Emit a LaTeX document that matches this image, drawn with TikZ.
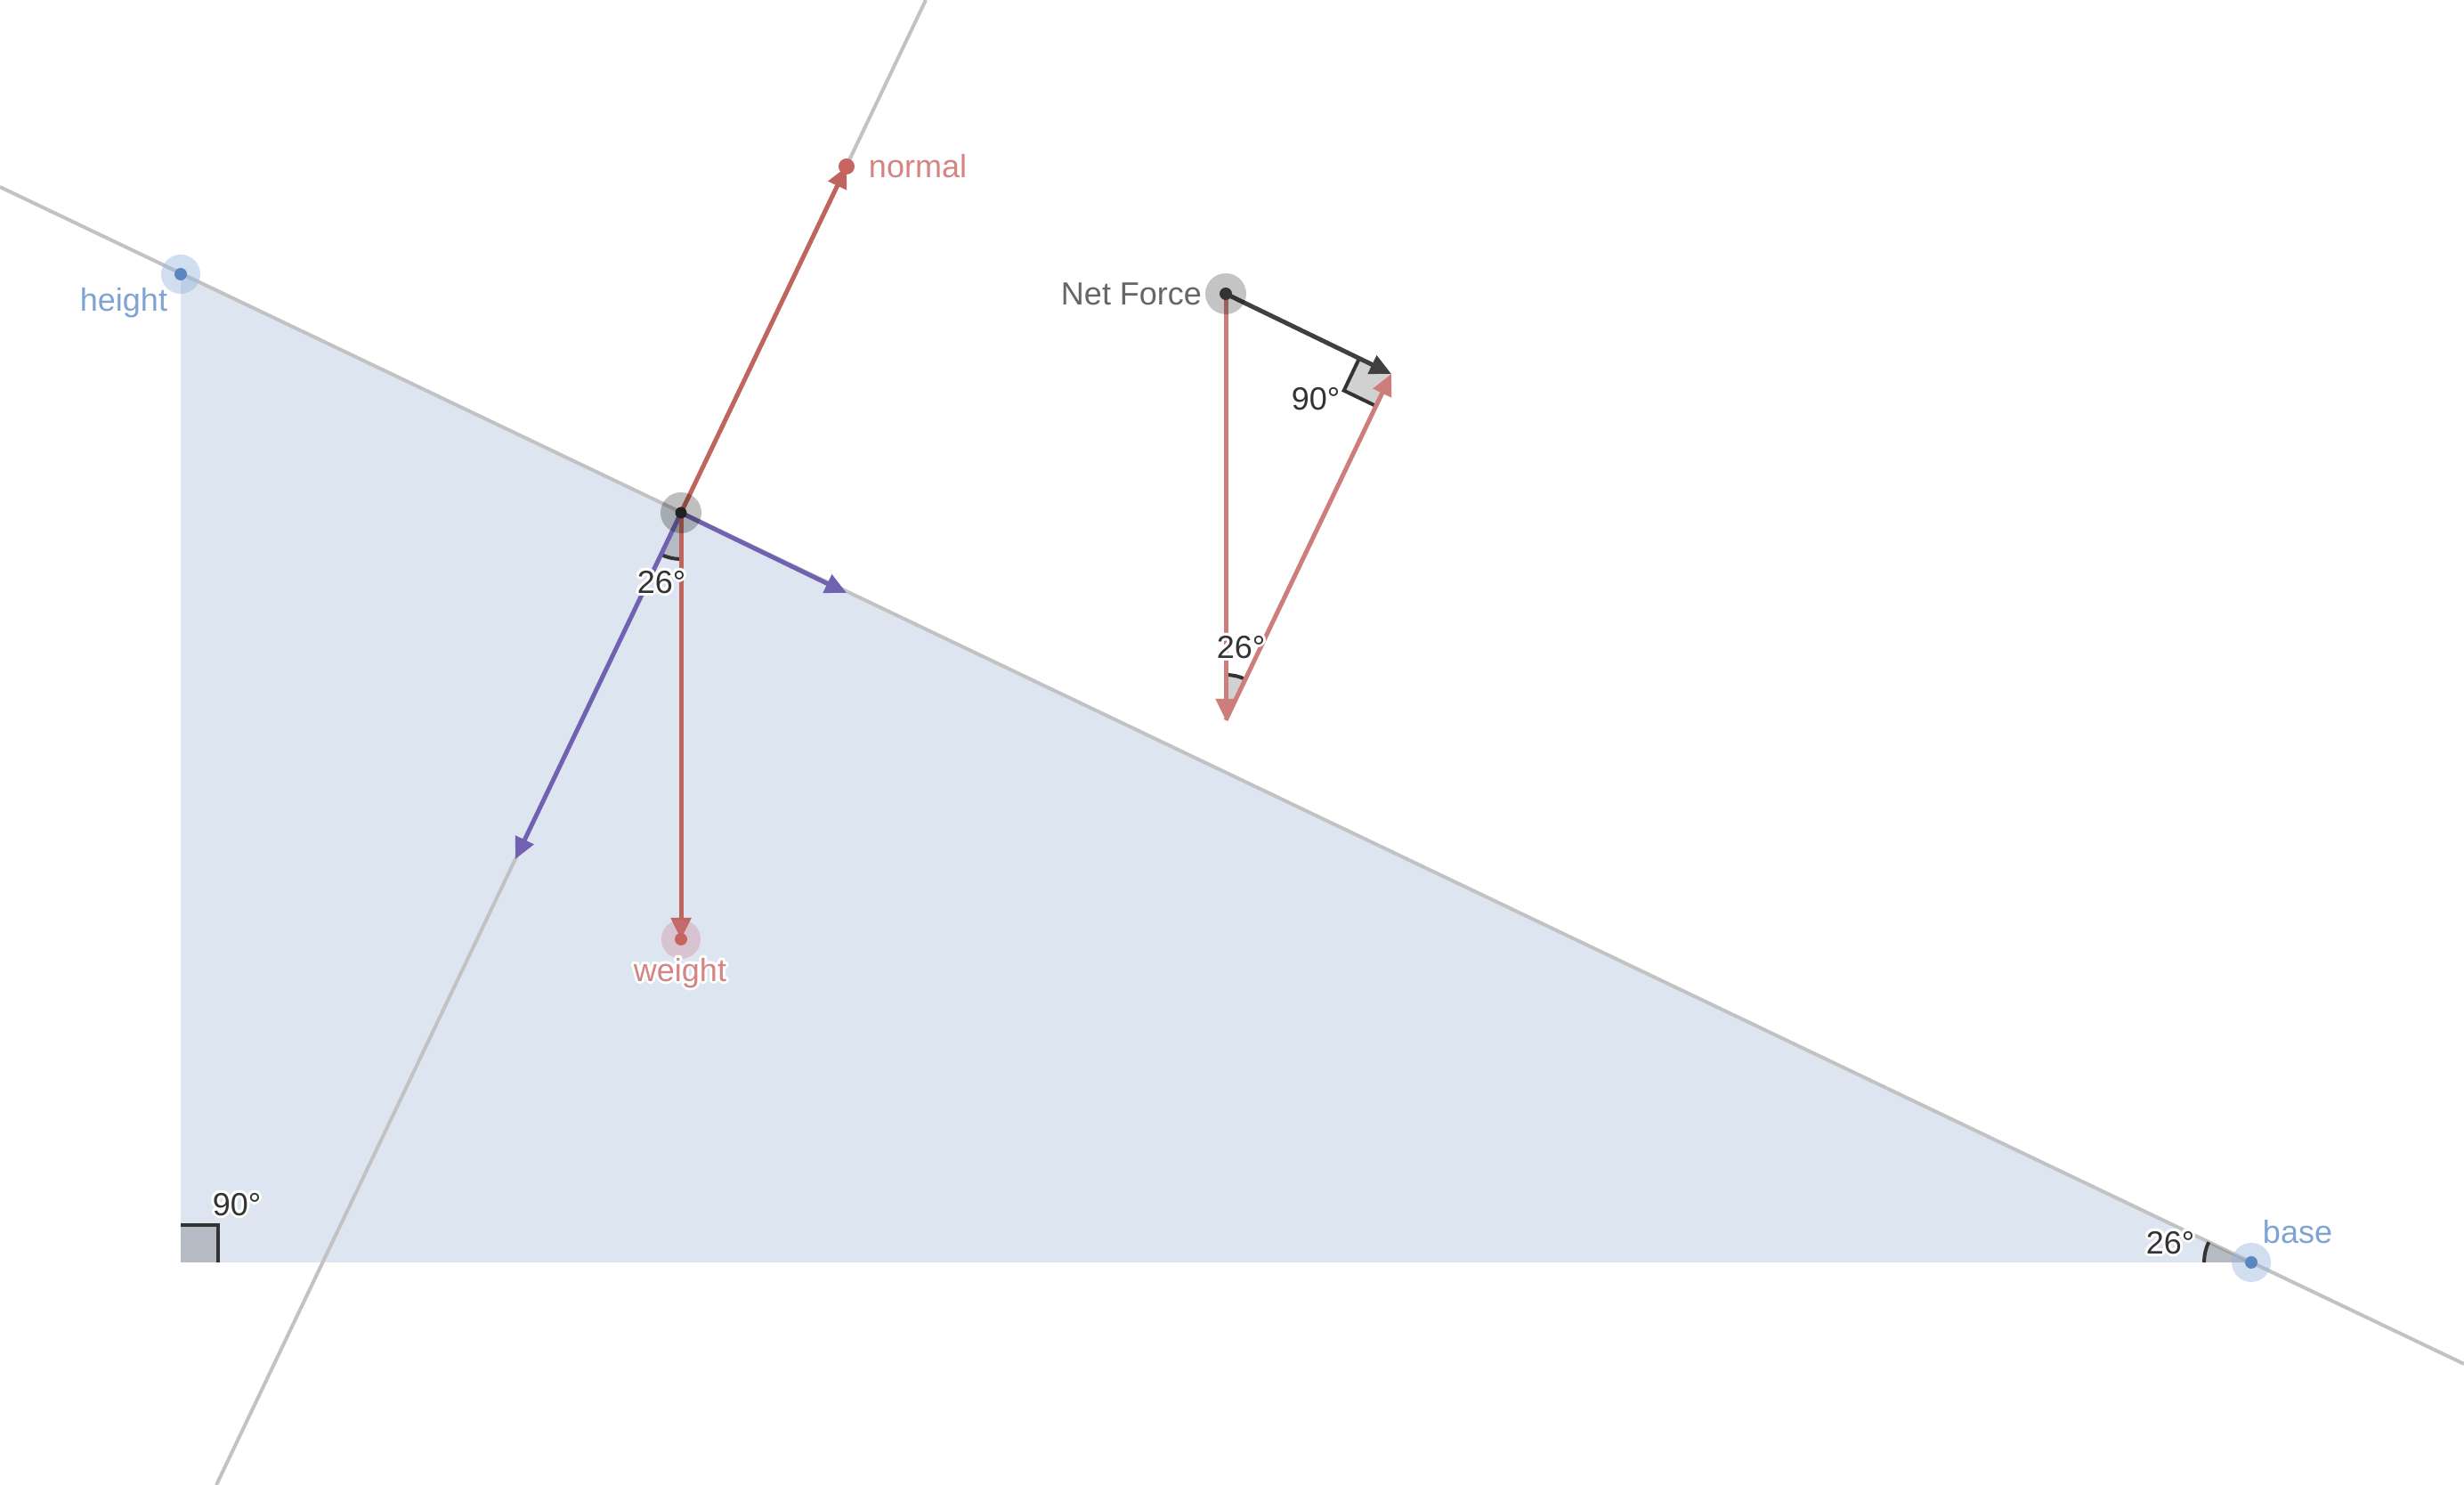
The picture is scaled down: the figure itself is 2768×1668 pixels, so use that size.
\documentclass[tikz,border=0pt]{standalone}
\usepackage{fontspec}
\setmainfont{Liberation Sans}
\usetikzlibrary{arrows.meta,calc}
\definecolor{fillblue}{RGB}{220,229,240}
\definecolor{grayline}{RGB}{194,194,194}
\definecolor{redvec}{RGB}{192,100,94}
\definecolor{redcopy}{RGB}{206,126,122}
\definecolor{purplevec}{RGB}{112,98,176}
\definecolor{darkvec}{RGB}{64,64,64}
\definecolor{lblblue}{RGB}{128,164,210}
\definecolor{lblred}{RGB}{212,132,130}
\definecolor{ptblue}{RGB}{92,134,192}
\definecolor{haloblue}{RGB}{150,182,220}
\definecolor{ptred}{RGB}{200,100,95}
\definecolor{halored}{RGB}{205,120,135}
\definecolor{angletext}{RGB}{51,51,51}
\definecolor{netgray}{RGB}{102,102,102}
\tikzset{
  vec/.style={line width=2.5pt, -{Triangle[length=12pt,width=11pt]}},
  guide/.style={grayline, line width=2pt},
  wedge/.style={fill=black, fill opacity=0.18},
  anglemark/.style={draw=angletext, line width=2pt},
  lbl/.style={font=\fontsize{18}{22}\selectfont, inner sep=0pt},
}
\newcommand{\halolabel}[4]{% name, position, color, text
  \foreach \ang in {0,30,...,330} {\node[lbl, text=white] at ($(#2)+(\ang:3)$) {#4};}
  \node[lbl, text=#3] (#1) at (#2) {#4};
}
\begin{document}
\begin{tikzpicture}[x=0.5pt, y=0.5pt]
\useasboundingbox (0,0) rectangle (2768,1668);
% key points
\coordinate (H1) at (203,1360);
\coordinate (B) at (2529,250);
\coordinate (C) at (203,250);
\coordinate (P) at (765,1092);
\coordinate (Nt) at (951,1481);
\coordinate (W) at (765,613);
\coordinate (S) at (951,1002);
\coordinate (Q) at (579,703);
\coordinate (F) at (1377,1338);
\coordinate (G) at (1377,859);
\coordinate (T) at (1563,1248);
\coordinate (L1a) at (0,1458);
\coordinate (L1b) at (2768,136);
\coordinate (L2a) at (243,0);
\coordinate (L2b) at (1040,1668);
% incline
\fill[fillblue] (H1) -- (B) -- (C) -- cycle;
\draw[guide] (L1a) -- (L1b);
\draw[guide] (L2a) -- (L2b);
% right angle at corner
\fill[wedge] (C) rectangle ++(42,42);
\draw[anglemark] ($(C)+(0,42)$) -- ++(42,0) -- ++(0,-42);
% angle at base
\fill[wedge] (B) -- ++(180:53) arc[start angle=180, end angle=154.5, radius=53] -- cycle;
\draw[anglemark] ($(B)+(180:53)$) arc[start angle=180, end angle=154.5, radius=53];
% angle at block
\fill[wedge] (P) -- ++(244.5:52) arc[start angle=244.5, end angle=270, radius=52] -- cycle;
\draw[anglemark] ($(P)+(244.5:52)$) arc[start angle=244.5, end angle=270, radius=52];
% angle in force triangle
\fill[wedge] (G) -- ++(64.5:51) arc[start angle=64.5, end angle=90, radius=51] -- cycle;
\draw[anglemark] ($(G)+(64.5:51)$) arc[start angle=64.5, end angle=90, radius=51];
% right angle at net tip
\fill[wedge] (T) -- ++(154.2:40) -- ++(244.4:40) -- ++(334.2:40) -- cycle;
\draw[anglemark] ($(T)+(154.2:40)$) -- ++(244.4:40) -- ++(334.2:40);
% vectors on block
\draw[vec, purplevec] (P) -- (S);
\draw[vec, purplevec] (P) -- (Q);
\draw[vec, redvec] (P) -- (Nt);
\draw[vec, redvec] (P) -- (W);
% force triangle
\draw[vec, redcopy] (F) -- (G);
\draw[vec, redcopy] (G) -- (T);
\draw[vec, darkvec] (F) -- (T);
% points
\fill[haloblue, opacity=0.45] (H1) circle[radius=22];
\fill[ptblue] (H1) circle[radius=7];
\fill[haloblue, opacity=0.45] (B) circle[radius=22];
\fill[ptblue] (B) circle[radius=7];
\fill[black, opacity=0.25] (P) circle[radius=23];
\fill[black!87] (P) circle[radius=6.5];
\fill[black, opacity=0.23] (F) circle[radius=23];
\fill[black!80] (F) circle[radius=7];
\fill[halored, opacity=0.3] (W) circle[radius=22];
\fill[ptred] (W) circle[radius=7];
\fill[ptred] (Nt) circle[radius=9];
% labels
\coordinate (pH) at (139,1328);
\coordinate (pB) at (2581,284);
\coordinate (pN) at (1031,1481);
\coordinate (pW) at (764,575);
\coordinate (pF) at (1271,1338);
\coordinate (pA1) at (743,1014);
\coordinate (pA2) at (1394,941);
\coordinate (pA3) at (2438,272);
\coordinate (pA4) at (266,315);
\coordinate (pA5) at (1478,1220);
\halolabel{tH}{pH}{lblblue}{height}
\halolabel{tB}{pB}{lblblue}{base}
\halolabel{tN}{pN}{lblred}{normal}
\halolabel{tW}{pW}{lblred}{weight}
\halolabel{tF}{pF}{netgray}{Net Force}
\halolabel{tA1}{pA1}{angletext}{26°}
\halolabel{tA2}{pA2}{angletext}{26°}
\halolabel{tA3}{pA3}{angletext}{26°}
\halolabel{tA4}{pA4}{angletext}{90°}
\halolabel{tA5}{pA5}{angletext}{90°}
\end{tikzpicture}
\end{document}
